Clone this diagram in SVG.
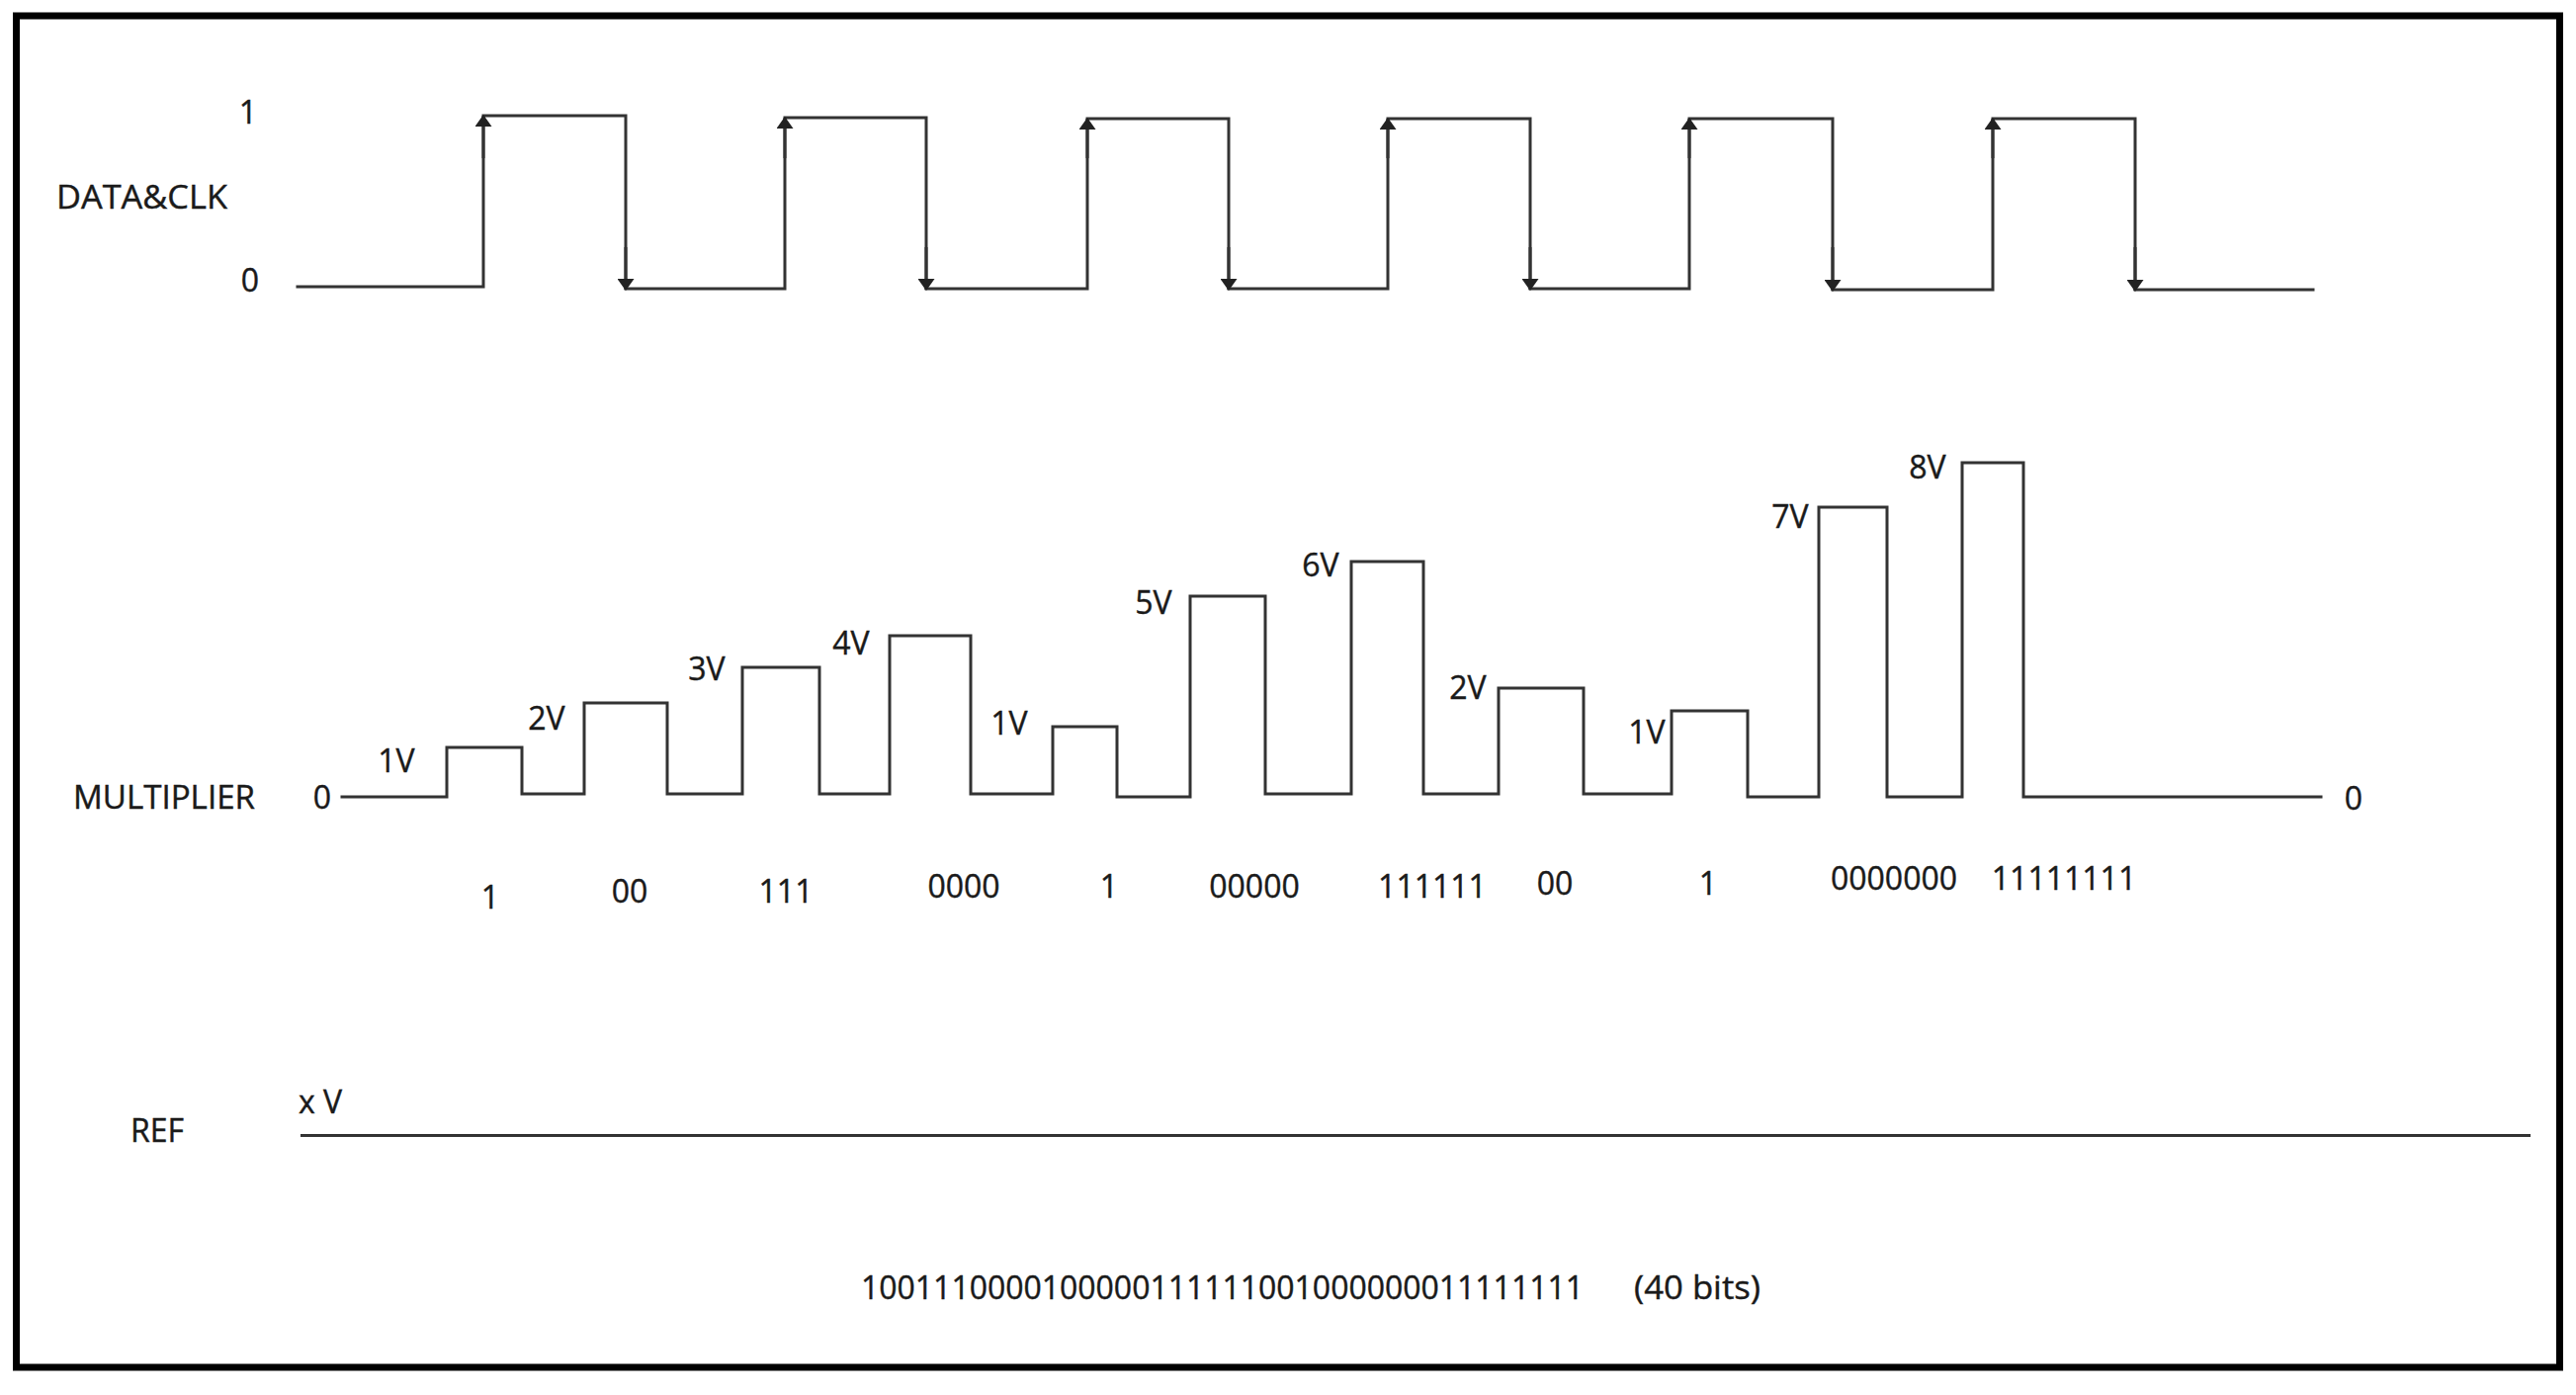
<svg xmlns="http://www.w3.org/2000/svg" width="2606" height="1411" viewBox="0 0 2606 1411">
<style>
.t{font-family:"Open Sans","Liberation Sans",sans-serif;font-size:32px;fill:#1a1a1a;stroke:#1a1a1a;stroke-width:0.4}
.m{text-anchor:middle}
.w{fill:none;stroke:#333;stroke-width:3;stroke-linejoin:miter;stroke-linecap:square}
.e{stroke:#333;stroke-width:3;marker-end:url(#ah)}
</style>
<defs>
<marker id="ah" markerUnits="userSpaceOnUse" markerWidth="12" markerHeight="17" viewBox="0 0 12 17" refX="11" refY="8.5" orient="auto">
<path d="M0,0 L12,8.5 L0,17 z" fill="#222"/>
</marker>
</defs>
<rect width="2606" height="1411" fill="#fff"/>
<rect id="frame" x="16.5" y="16" width="2573" height="1367" fill="none" stroke="#000" stroke-width="7"/>

<g id="data-clk">
<text class="t" x="57" y="211" textLength="173" lengthAdjust="spacingAndGlyphs">DATA&amp;CLK</text>
<text class="t m" x="251" y="125">1</text>
<text class="t m" x="253" y="295">0</text>
<path class="w" d="M301,290 H489 V117 H633 V292 H794 V119 H937 V292 H1100 V120 H1243 V292 H1404 V120 H1548 V292 H1709 V120 H1854 V293 H2016 V120 H2160 V293 H2340"/>
</g>

<g id="connectors">
<line class="e" x1="489" y1="160" x2="489" y2="117"/>
<line class="e" x1="633" y1="250" x2="633" y2="293"/>
<line class="e" x1="794" y1="160" x2="794" y2="119"/>
<line class="e" x1="937" y1="250" x2="937" y2="293"/>
<line class="e" x1="1100" y1="160" x2="1100" y2="120"/>
<line class="e" x1="1243" y1="250" x2="1243" y2="293"/>
<line class="e" x1="1404" y1="160" x2="1404" y2="120"/>
<line class="e" x1="1548" y1="250" x2="1548" y2="293"/>
<line class="e" x1="1709" y1="160" x2="1709" y2="120"/>
<line class="e" x1="1854" y1="250" x2="1854" y2="294"/>
<line class="e" x1="2016" y1="160" x2="2016" y2="120"/>
<line class="e" x1="2160" y1="250" x2="2160" y2="294"/>
</g>

<g id="multiplier">
<text class="t" x="74" y="818" textLength="184" lengthAdjust="spacingAndGlyphs">MULTIPLIER</text>
<text class="t m" x="326" y="818">0</text>
<text class="t m" x="2381" y="819">0</text>
<path class="w" d="M346,806 H452 V756 H528 V803 H591 V711 H675 V803 H751 V675 H829 V803 H900 V643 H982 V803 H1065 V735 H1130 V806 H1204 V603 H1280 V803 H1367 V568 H1440 V803 H1516 V696 H1602 V803 H1691 V719 H1768 V806 H1840 V513 H1909 V806 H1985 V468 H2047 V806 H2348"/>
<g id="volt-labels">
<text class="t m" x="401" y="781">1V</text>
<text class="t m" x="553" y="738">2V</text>
<text class="t m" x="715" y="688">3V</text>
<text class="t m" x="861" y="662">4V</text>
<text class="t m" x="1021" y="743">1V</text>
<text class="t m" x="1167" y="621">5V</text>
<text class="t m" x="1336" y="583">6V</text>
<text class="t m" x="1485" y="707">2V</text>
<text class="t m" x="1666" y="752">1V</text>
<text class="t m" x="1811" y="534">7V</text>
<text class="t m" x="1950" y="484">8V</text>
</g>
<g id="bit-labels">
<text class="t m" x="496" y="919">1</text>
<text class="t m" x="637" y="913">00</text>
<text class="t m" x="795" y="913">111</text>
<text class="t m" x="975" y="908">0000</text>
<text class="t m" x="1122" y="908">1</text>
<text class="t m" x="1269" y="908">00000</text>
<text class="t m" x="1449" y="908">111111</text>
<text class="t m" x="1573" y="905">00</text>
<text class="t m" x="1728" y="905">1</text>
<text class="t m" x="1916" y="900">0000000</text>
<text class="t m" x="2088" y="900">11111111</text>
</g>
</g>

<g id="ref">
<text class="t" x="132" y="1155">REF</text>
<text class="t" x="302" y="1126">x V</text>
<line x1="304" y1="1148.5" x2="2560" y2="1148.5" stroke="#333" stroke-width="3"/>
</g>

<g id="bitstream">
<text class="t" x="871" y="1314" textLength="731" lengthAdjust="spacingAndGlyphs">1001110000100000111111001000000011111111</text>
<text class="t" x="1653" y="1314" textLength="128" lengthAdjust="spacingAndGlyphs">(40 bits)</text>
</g>
</svg>
